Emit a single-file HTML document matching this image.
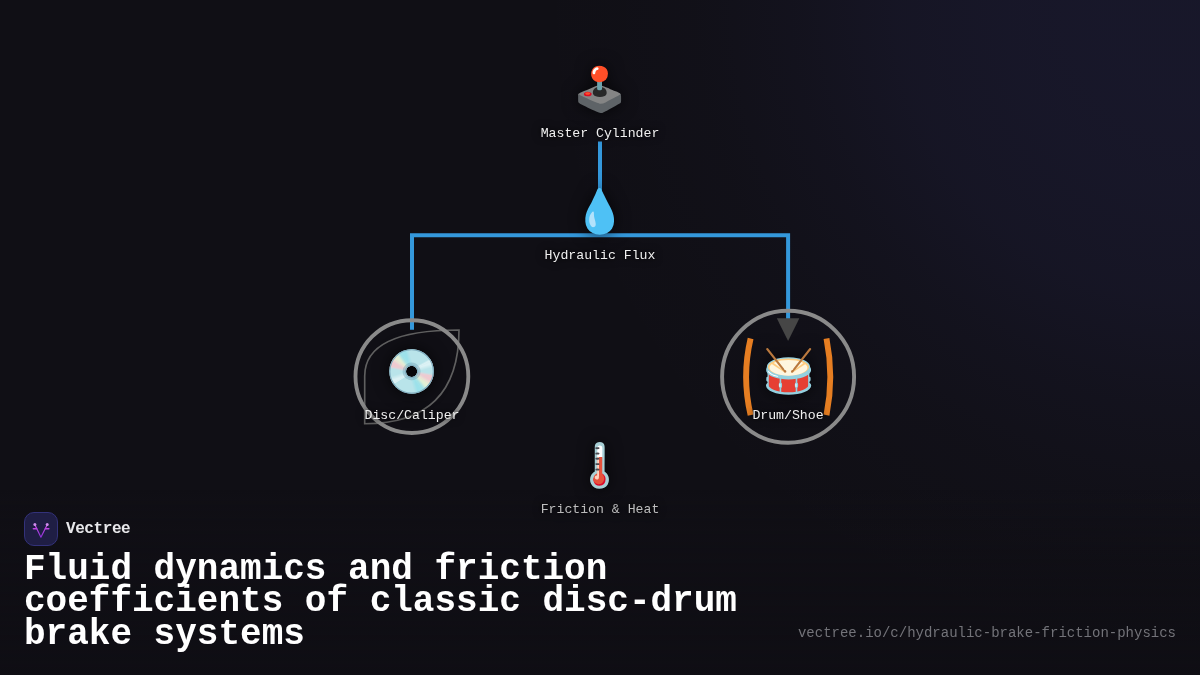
<!DOCTYPE html>
<html lang="en">
<head>
<meta charset="utf-8">
<title>Fluid dynamics and friction coefficients of classic disc-drum brake systems</title>
<style>
*{box-sizing:border-box;margin:0;padding:0}
html,body{width:1200px;height:675px;overflow:hidden;background:#100f15}
body{position:relative;font-family:"Liberation Mono","DejaVu Sans Mono",monospace;color:#fff}
.bg{position:absolute;inset:0;background:radial-gradient(circle 700px at 100% 0%, rgba(99,102,241,.094) 0%, rgba(99,102,241,.094) 14%, rgba(99,102,241,.088) 28%, rgba(99,102,241,.072) 43%, rgba(99,102,241,.038) 57%, rgba(99,102,241,.014) 71%, rgba(99,102,241,.003) 85%, rgba(99,102,241,0) 100%),#100f15}
.fade{position:absolute;left:0;right:0;bottom:0;height:185px;background:linear-gradient(to bottom, rgba(15,14,20,0), rgba(15,14,20,.85))}
svg.d{position:absolute;left:0;top:0;width:1200px;height:675px}
.em{position:absolute;filter:drop-shadow(0 0 8px rgba(0,0,0,.7));font-family:"Noto Color Emoji","Apple Color Emoji","Segoe UI Emoji",sans-serif;font-size:42.7px;line-height:50px;height:50px;width:80px;text-align:center;transform:translate(-50%,-50%)}
.lb{position:absolute;will-change:transform;text-shadow:0 0 9px rgba(0,0,0,.85),0 0 4px rgba(0,0,0,.5);font-size:13.2px;line-height:16px;height:16px;white-space:nowrap;transform:translate(-50%,-50%);color:#f0f0f0;letter-spacing:0}
svg.fb{display:none}
.noemoji .em{display:none}
.noemoji svg.fb{display:block}
.brand{position:absolute;left:24px;top:512px;height:34px;display:flex;align-items:center}
.logo{width:34px;height:34px;border-radius:10px;background:#1f1e44;border:1px solid #33327a;position:relative;flex:none}
.logo svg{position:absolute;left:-1px;top:-1px;display:block}
.bname{margin-left:8px;font-weight:700;font-size:16px;letter-spacing:-0.42px;color:#e7e7ea}
h1{position:absolute;left:24px;top:554px;width:760px;font-size:36px;line-height:32.4px;font-weight:700;color:#fff}
.url{position:absolute;right:24px;top:625px;font-size:14px;line-height:16px;color:#737379;white-space:nowrap}
</style>
</head>
<body>
<div class="bg"></div>
<svg class="d" viewBox="0 0 1200 675">
  <path d="M600 141.4V235.3M412 329.8V235.3H788.1V320" fill="none" stroke="#3498db" stroke-width="4"/>
  <path d="M364.7 423.7V376Q364.7 330 459 330Q459 423.7 364.7 423.7Z" fill="none" stroke="#606060" stroke-width="1.65"/>
  <circle cx="411.9" cy="376.6" r="56.4" fill="none" stroke="#8a8a8a" stroke-width="3.85"/>
  <circle cx="788.1" cy="376.7" r="66" fill="none" stroke="#8a8a8a" stroke-width="3.9"/>
  <path d="M776.8 318.2H799.4L788.1 341.1Z" fill="#464646"/>
  <path d="M750.6 338.5Q741.6 376.8 750.6 415.1" fill="none" stroke="#e67e22" stroke-width="5.9"/>
  <path d="M826.5 338.5Q834.1 376.8 826.5 415.1" fill="none" stroke="#e67e22" stroke-width="5.9"/>
</svg>
<div class="em" style="left:599.7px;top:89.4px">🕹️</div>
<svg class="d fb" viewBox="0 0 1200 675">
  <g>
    <path d="M578 93.5L599.5 82.5L621.5 93.5V101.5L599.5 113.2L578 101.5Z" fill="#5f6466"/>
    <path d="M578 93.5L599.5 82.5L621.5 93.5L599.5 105Z" fill="#757b7e"/>
    <ellipse cx="599.5" cy="92.5" rx="6.6" ry="4.6" fill="#212121"/>
    <rect x="597" y="78" width="5" height="14" rx="2" fill="#6aa6b6"/>
    <circle cx="599.4" cy="74" r="8.6" fill="#ff5425"/>
    <path d="M593.6 72.5Q594.4 68.6 598 67.8" fill="none" stroke="#ffd9cc" stroke-width="1.5" stroke-linecap="round"/>
    <ellipse cx="587.4" cy="94" rx="3.6" ry="2.1" fill="#e21f1f"/>
  </g>
  <g>
    <path d="M599.7 188.8C604 198 614.4 208.5 614.4 219.6A14.7 14.7 0 0 1 585 219.6C585 208.5 595.4 198 599.7 188.8Z" fill="#4fc3f7"/>
    <path d="M592.6 213.5Q589.6 219.5 592.2 225.6Q593.6 227.6 594.8 225.4Q593.2 219 594.4 213.6Q593.6 212 592.6 213.5Z" fill="#b3e5fc"/>
  </g>
  <g>
    <circle cx="411.6" cy="371.8" r="22.3" fill="#b5e7ef"/>
    <path d="M411.6 371.8L390.6 364.4A22.3 22.3 0 0 1 396 355.8Z" fill="#f6c9cf"/>
    <path d="M411.6 371.8L396 355.8A22.3 22.3 0 0 1 401 352.2Z" fill="#eaf0c2"/>
    <path d="M411.6 371.8L432.6 379.2A22.3 22.3 0 0 1 427.2 387.8Z" fill="#f6c9cf"/>
    <path d="M411.6 371.8L427.2 387.8A22.3 22.3 0 0 1 422.2 391.4Z" fill="#eaf0c2"/>
    <path d="M411.6 371.8L426 354.8A22.3 22.3 0 0 1 432.6 364.4Z" fill="#dff5f8"/>
    <path d="M411.6 371.8L397.2 388.8A22.3 22.3 0 0 1 390.6 379.2Z" fill="#dff5f8"/>
    <circle cx="411.6" cy="371.8" r="8.4" fill="#9fd0dc"/>
    <circle cx="411.6" cy="371.8" r="5.2" fill="#0b0b0e"/>
  </g>
  <g>
    <path d="M766.5 368V385.5C766.5 391.3 776 396 788.6 396S810.7 391.3 810.7 385.5V368Z" fill="#e53935"/>
    <path d="M766.5 384C766.5 389.8 776 394.4 788.6 394.4S810.7 389.8 810.7 384" fill="none" stroke="#94d6e6" stroke-width="2.2"/>
    <path d="M781.6 373.5V394M795.6 373.5V394" stroke="#b6e3ee" stroke-width="1.5"/>
    <ellipse cx="788.6" cy="367.6" rx="21.4" ry="9.6" fill="#fff1d2" stroke="#94d6e6" stroke-width="2.2"/>
    <path d="M767.2 349.6L785.5 371.6M810.2 349.6L792 371.6" stroke="#b86a2a" stroke-width="2.4" stroke-linecap="round"/>
  </g>
  <g>
    <path d="M593.5 448.5A6.2 6.2 0 0 1 605.9 448.5V471.4A10 10 0 1 1 593.5 471.4Z" fill="#a6d9e2"/>
    <path d="M596 448.6A3.7 3.7 0 0 1 603.4 448.6V473H596Z" fill="#fafafa"/>
    <path d="M598.6 459H603.4V474H598.6Z" fill="#e8432f"/>
    <circle cx="599.7" cy="479.2" r="6.8" fill="#ee3f30"/>
    <path d="M594.6 451H598M594.6 455.8H598M594.6 460.6H598M594.6 465.4H598M594.6 470.2H598" stroke="#424242" stroke-width="1.3"/>
    <path d="M597 466V476Q595.6 478 596.6 480" fill="none" stroke="#ffc9bd" stroke-width="1.5" stroke-linecap="round"/>
  </g>
</svg>
<div class="lb" style="left:600px;top:134px">Master Cylinder</div>
<div class="em" style="left:599.7px;top:210.5px">💧</div>
<div class="lb" style="left:600px;top:256px">Hydraulic Flux</div>
<div class="em" style="left:412.4px;top:371.2px">💿</div>
<div class="lb" style="left:412px;top:416px">Disc/Caliper</div>
<div class="em" style="left:788.8px;top:371.1px">🥁</div>
<div class="lb" style="left:788px;top:416px">Drum/Shoe</div>
<div class="em" style="left:599.7px;top:465px">🌡️</div>
<div class="lb" style="left:600px;top:510px;color:#cdcdcd">Friction &amp; Heat</div>
<div class="fade"></div>
<div class="brand">
  <div class="logo"><svg viewBox="0 0 34 34" width="34" height="34">
    <defs><linearGradient id="lg" x1="0" y1="0" x2="0" y2="1"><stop offset="0" stop-color="#cf52ee"/><stop offset="1" stop-color="#8b2fd6"/></linearGradient></defs>
    <path d="M10.9 12.7L16.9 25.2L23.2 12.7" fill="none" stroke="url(#lg)" stroke-width="1.15" stroke-linejoin="round" stroke-linecap="round"/>
    <path d="M9.4 16.8H12.6M21.5 16.8H24.8" fill="none" stroke="#c044e4" stroke-width="1.6" stroke-linecap="round"/>
    <circle cx="10.9" cy="12.6" r="1.5" fill="#cf8cec"/><circle cx="23.2" cy="12.6" r="1.5" fill="#cf8cec"/>
  </svg></div>
  <span class="bname">Vectree</span>
</div>
<h1>Fluid dynamics and friction coefficients of classic disc-drum brake systems</h1>
<div class="url">vectree.io/c/hydraulic-brake-friction-physics</div>
<script>
(function(){try{var c=document.createElement('canvas');c.width=40;c.height=40;var x=c.getContext('2d');x.textBaseline='top';x.font='28px "Noto Color Emoji","Apple Color Emoji","Segoe UI Emoji",sans-serif';x.fillStyle='#000';x.fillText('\uD83D\uDCA7',4,4);var d=x.getImageData(0,0,40,40).data,ok=false;for(var i=0;i<d.length;i+=4){if(d[i+3]>40&&d[i+2]>120&&d[i]<160){ok=true;break}}if(!ok)document.documentElement.className+=' noemoji'}catch(e){}})();
</script>
</body>
</html>
